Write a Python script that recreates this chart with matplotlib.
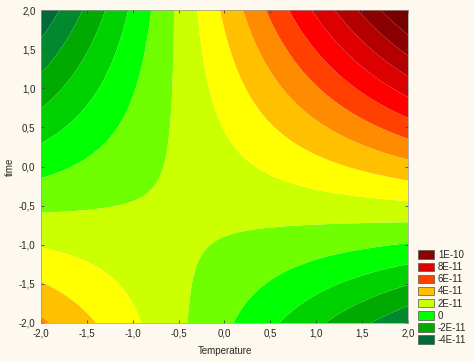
import numpy as np
import matplotlib
matplotlib.use("Agg")
import matplotlib.pyplot as plt
from matplotlib.patches import Patch
from matplotlib.ticker import FuncFormatter

# -------------------------------------------------
# Data (z in units of 1E-11)
# -------------------------------------------------
temperature = [-2.0, -1.0, 0.0, 1.0, 2.0]
time_pts = [-2.0, -1.0, 0.0, 1.0, 2.0]

# rows = time (bottom -> top), columns = temperature (left -> right)
z_read = [
    [4.2, 2.2, 0.2, -1.8, -3.8],
    [1.9, 1.4, 0.9, 0.4, -0.1],
    [-0.3, 0.7, 1.7, 2.7, 3.7],
    [-2.6, -0.1, 2.4, 4.9, 7.4],
    [-4.8, -0.8, 3.2, 7.2, 11.2],
]

# contour levels (1E-11) and band colours
levels = [-6, -4, -3, -2, -1, 0, 1, 2, 3, 4, 5, 6, 7, 8, 9, 10, 13]
band_colors = [
    "#006b36", "#008a2d", "#00aa00", "#00d200", "#00ff00", "#70ff00",
    "#ccff00", "#ffff00", "#ffc000", "#ff8c00", "#ff4000", "#ff0000",
    "#dc0000", "#b40000", "#8b0000", "#760000",
]

legend_values = [10, 8, 6, 4, 2, 0, -2, -4]
legend_labels = ["1E-10", "8E-11", "6E-11", "4E-11", "2E-11", "0", "-2E-11", "-4E-11"]

bg = "#fdf9ef"
text_col = "#262626"


# -------------------------------------------------
# Fit a quadratic response surface to the readings
# -------------------------------------------------
def fit_surface(xs, ys, zs):
    X, Y = np.meshgrid(xs, ys)
    x = X.ravel()
    y = Y.ravel()
    A = np.column_stack([np.ones_like(x), x, y, x * y, x * x, y * y])
    coef, *_ = np.linalg.lstsq(A, np.asarray(zs).ravel(), rcond=None)
    return coef


def eval_surface(coef, X, Y):
    return (coef[0] + coef[1] * X + coef[2] * Y + coef[3] * X * Y
            + coef[4] * X * X + coef[5] * Y * Y)


coef = fit_surface(temperature, time_pts, z_read)
gx = np.linspace(min(temperature), max(temperature), 300)
gy = np.linspace(min(time_pts), max(time_pts), 300)
GX, GY = np.meshgrid(gx, gy)
GZ = eval_surface(coef, GX, GY)

# -------------------------------------------------
# Plot
# -------------------------------------------------
plt.rcParams["font.family"] = ["Liberation Sans", "DejaVu Sans"]

fig = plt.figure(figsize=(4.74, 3.62), dpi=100, facecolor=bg)
ax = fig.add_axes([41 / 474, 1 - 323 / 362, 367 / 474, 313 / 362])
ax.set_facecolor(bg)

ax.contourf(GX, GY, GZ, levels=levels, colors=band_colors, antialiased=True)

ax.set_xlim(-2, 2)
ax.set_ylim(-2, 2)
ticks = [-2.0, -1.5, -1.0, -0.5, 0.0, 0.5, 1.0, 1.5, 2.0]
ax.set_xticks(ticks)
ax.set_yticks(ticks)
comma = FuncFormatter(lambda v, p: f"{v:.1f}".replace(".", ","))
ax.xaxis.set_major_formatter(comma)
ax.yaxis.set_major_formatter(comma)
ax.tick_params(direction="in", length=2.5, width=0.6, colors="#444444",
               labelcolor=text_col, labelsize=7, top=True, right=True, pad=4)

for s in ax.spines.values():
    s.set_linewidth(0.5)
    s.set_color("#999999")

ax.set_xlabel("Temperature", fontsize=7, color=text_col)
ax.set_ylabel("time", fontsize=7, color=text_col)
ax.xaxis.set_label_coords(0.5, -0.072)
ax.yaxis.set_label_coords(-0.072, 0.5)

# legend: every second level, like the reference
handles = []
for v in legend_values:
    idx = levels.index(v) - 1
    handles.append(Patch(facecolor=band_colors[idx], edgecolor="#555555", linewidth=0.5))

fig.legend(handles, legend_labels, loc="upper left",
           bbox_to_anchor=(418 / 474, 1 - 250 / 362), frameon=False,
           fontsize=7, handlelength=1.6, handleheight=0.95, handletextpad=0.45,
           labelspacing=0.22, borderaxespad=0, borderpad=0, labelcolor=text_col)

plt.savefig("out.png", dpi=100, facecolor=bg)
